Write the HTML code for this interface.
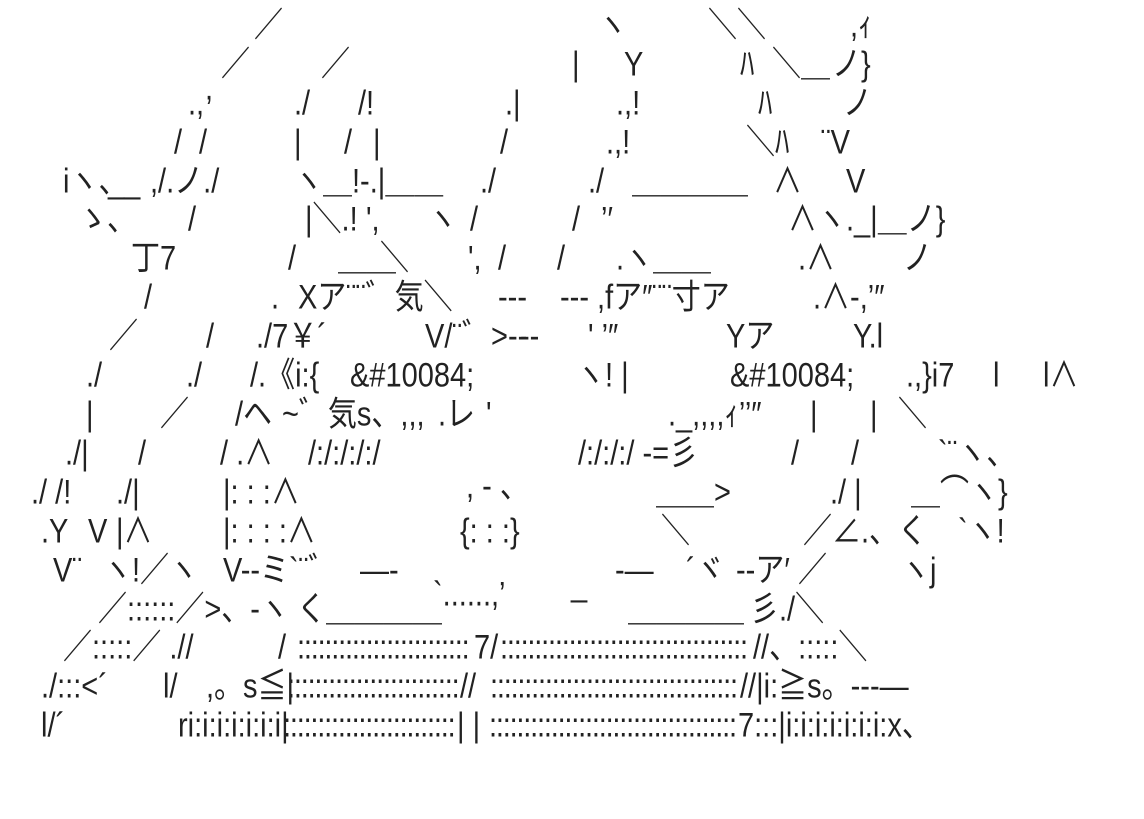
<!DOCTYPE html>
<html><head><meta charset="utf-8"><style>
html,body{margin:0;padding:0;background:#fff;}
body{width:1144px;height:819px;position:relative;overflow:hidden;font-family:"Liberation Sans","Noto Sans CJK JP",sans-serif;font-size:29px;color:#222;}
.t{position:absolute;white-space:pre;line-height:38px;transform:scaleY(1.18);transform-origin:50% 55%;}
.d{letter-spacing:-1.2px;}
</style></head><body>
<!-- row1 -->
<span class="t" style="left:254px;top:7px">／</span>
<span class="t" style="left:598px;top:7px">ヽ</span>
<span class="t" style="left:708px;top:7px">＼＼</span>
<span class="t" style="left:850px;top:7px">,ｨ</span>
<!-- row2 -->
<span class="t" style="left:221px;top:46px">／</span>
<span class="t" style="left:321px;top:46px">／</span>
<span class="t" style="left:572px;top:46px">|</span>
<span class="t" style="left:624px;top:46px">Y</span>
<span class="t" style="left:740px;top:46px">ﾊ</span>
<span class="t" style="left:772px;top:46px">＼＿</span>
<span class="t" style="left:832px;top:46px">ノ}</span>
<!-- row3 -->
<span class="t" style="left:205px;top:70px">,</span>
<span class="t" style="left:188px;top:85px">.,</span>
<span class="t" style="left:294px;top:85px">./</span>
<span class="t" style="left:358px;top:85px">/!</span>
<span class="t" style="left:505px;top:85px">.|</span>
<span class="t" style="left:616px;top:85px">.,!</span>
<span class="t" style="left:758px;top:85px">ﾊ</span>
<span class="t" style="left:843px;top:85px">ノ</span>
<!-- row4 -->
<span class="t" style="left:174px;top:124px">/</span>
<span class="t" style="left:199px;top:124px">/</span>
<span class="t" style="left:294px;top:124px">|</span>
<span class="t" style="left:344px;top:124px">/</span>
<span class="t" style="left:373px;top:124px">|</span>
<span class="t" style="left:500px;top:124px">/</span>
<span class="t" style="left:606px;top:124px">.,!</span>
<span class="t" style="left:746px;top:124px">＼ﾊ</span>
<span class="t" style="left:821px;top:124px">¨V</span>
<!-- row5 -->
<span class="t" style="left:63px;top:163px">iヽ、</span>
<span class="t" style="left:108px;top:163px">__</span>
<span class="t" style="left:150px;top:163px">,/.ノ./</span>
<span class="t" style="left:294px;top:163px">ヽ＿!-.|＿＿</span>
<span class="t" style="left:480px;top:163px">./</span>
<span class="t" style="left:588px;top:163px">./</span>
<span class="t" style="left:632px;top:163px">＿＿＿＿</span>
<span class="t" style="left:773px;top:163px">∧</span>
<span class="t" style="left:846px;top:163px">V</span>
<!-- row6 -->
<span class="t" style="left:78px;top:201px">ゝ、</span>
<span class="t" style="left:188px;top:201px">/</span>
<span class="t" style="left:305px;top:201px">|＼.!</span>
<span class="t" style="left:366px;top:201px">',</span>
<span class="t" style="left:428px;top:201px">ヽ</span>
<span class="t" style="left:470px;top:201px">/</span>
<span class="t" style="left:572px;top:201px">/</span>
<span class="t" style="left:601px;top:201px">’′</span>
<span class="t" style="left:788px;top:201px">∧ヽ._|＿ノ}</span>
<!-- row7 -->
<span class="t" style="left:131px;top:240px">丁7</span>
<span class="t" style="left:288px;top:240px">/</span>
<span class="t" style="left:338px;top:240px">＿＿</span>
<span class="t" style="left:380px;top:240px">＼</span>
<span class="t" style="left:468px;top:240px">',</span>
<span class="t" style="left:498px;top:240px">/</span>
<span class="t" style="left:557px;top:240px">/</span>
<span class="t" style="left:616px;top:240px">.ヽ＿＿</span>
<span class="t" style="left:798px;top:240px">.∧</span>
<span class="t" style="left:903px;top:240px">ノ</span>
<!-- row8 -->
<span class="t" style="left:144px;top:279px">/</span>
<span class="t" style="left:271px;top:279px">.</span>
<span class="t" style="left:298px;top:279px">Xア¨¨゛気＼</span>
<span class="t" style="left:498px;top:279px">---</span>
<span class="t" style="left:560px;top:279px">--- ,fア″¨¨寸ア</span>
<span class="t" style="left:813px;top:279px">.∧-,’″</span>
<!-- row9 -->
<span class="t" style="left:109px;top:318px">／</span>
<span class="t" style="left:206px;top:318px">/</span>
<span class="t" style="left:256px;top:318px">./7￥´</span>
<span class="t" style="left:425px;top:318px">V/¨゛&gt;--</span>
<span class="t" style="left:520px;top:318px">--</span>
<span class="t" style="left:588px;top:318px">' ’″</span>
<span class="t" style="left:726px;top:318px">Yア</span>
<span class="t" style="left:853px;top:318px">Y.l</span>
<!-- row10 -->
<span class="t" style="left:86px;top:357px">./</span>
<span class="t" style="left:186px;top:357px">./</span>
<span class="t" style="left:250px;top:357px">/.《i:{</span>
<span class="t" style="left:350px;top:357px">&amp;#10084;</span>
<span class="t" style="left:576px;top:357px">ヽ! |</span>
<span class="t" style="left:730px;top:357px">&amp;#10084;</span>
<span class="t" style="left:906px;top:357px">.,}i7</span>
<span class="t" style="left:993px;top:357px">l</span>
<span class="t" style="left:1043px;top:357px">l∧</span>
<!-- row11 -->
<span class="t" style="left:86px;top:396px">|</span>
<span class="t" style="left:160px;top:396px">／</span>
<span class="t" style="left:235px;top:396px">/ヘ</span>
<span class="t" style="left:282px;top:396px">~゛気s、,,,</span>
<span class="t" style="left:438px;top:396px">.レ</span>
<span class="t" style="left:486px;top:396px">'</span>
<span class="t" style="left:668px;top:396px">._,,,,ｨ’’″</span>
<span class="t" style="left:810px;top:396px">|</span>
<span class="t" style="left:870px;top:396px">|</span>
<span class="t" style="left:898px;top:396px">＼</span>
<!-- row12 -->
<span class="t" style="left:65px;top:435px">./|</span>
<span class="t" style="left:138px;top:435px">/</span>
<span class="t" style="left:220px;top:435px">/ .∧</span>
<span class="t" style="left:308px;top:435px">/:/:/:/:/</span>
<span class="t" style="left:578px;top:435px">/:/:/:/ -=彡</span>
<span class="t" style="left:791px;top:435px">/</span>
<span class="t" style="left:851px;top:435px">/</span>
<span class="t" style="left:938px;top:435px">`¨ヽ、</span>
<!-- row13 -->
<span class="t" style="left:31px;top:474px">./ /!</span>
<span class="t" style="left:116px;top:474px">./|</span>
<span class="t" style="left:223px;top:474px">|: : :∧</span>
<span class="t" style="left:466px;top:468px">, ‐ 、</span>
<span class="t" style="left:656px;top:474px">＿＿&gt;</span>
<span class="t" style="left:830px;top:474px">./ |</span>
<span class="t" style="left:911px;top:474px">＿⌒ヽ}</span>
<!-- row14 -->
<span class="t" style="left:41px;top:513px">.Y</span>
<span class="t" style="left:88px;top:513px">V</span>
<span class="t" style="left:116px;top:513px">|∧</span>
<span class="t" style="left:223px;top:513px">|: : : :∧</span>
<span class="t" style="left:460px;top:513px">{: : :}</span>
<span class="t" style="left:661px;top:513px">＼</span>
<span class="t" style="left:803px;top:513px">／∠.、く</span>
<span class="t" style="left:958px;top:513px">`ヽ!</span>
<!-- row15 -->
<span class="t" style="left:53px;top:552px">V¨</span>
<span class="t" style="left:103px;top:552px">ヽ!／ヽ</span>
<span class="t" style="left:223px;top:552px">V--ミ`¨゛</span>
<span class="t" style="left:360px;top:552px">―‐</span>
<span class="t" style="left:615px;top:552px">‐―</span>
<span class="t" style="left:686px;top:552px">´ヾ</span>
<span class="t" style="left:736px;top:552px">--ア′</span>
<span class="t" style="left:798px;top:552px">／</span>
<span class="t" style="left:901px;top:552px">ヽj</span>
<span class="t" style="left:571px;top:566px">_</span>
<!-- row16 -->
<span class="t" style="left:98px;top:591px">／::::::／&gt;、-ヽ く＿＿＿＿</span>
<span class="t" style="left:433px;top:576px">`......,’</span>
<span class="t" style="left:628px;top:591px">＿＿＿＿</span>
<span class="t" style="left:750px;top:591px">彡./＼</span>
<!-- row17 -->
<span class="t" style="left:63px;top:629px">／:::::／ .//</span>
<span class="t" style="left:278px;top:629px">/</span>
<span class="t d" style="left:297px;top:629px">:::::::::::::::::::::::::</span>
<span class="t" style="left:474px;top:629px">7/</span>
<span class="t d" style="left:500px;top:629px">::::::::::::::::::::::::::::::::::::</span>
<span class="t" style="left:753px;top:629px">//、:::::＼</span>
<!-- row18 -->
<span class="t" style="left:41px;top:668px">./:::&lt;´</span>
<span class="t" style="left:163px;top:668px">l/</span>
<span class="t" style="left:206px;top:668px">,。s≦|</span>
<span class="t d" style="left:287px;top:668px">:::::::::::::::::::::::::</span>
<span class="t" style="left:460px;top:668px">//</span>
<span class="t d" style="left:490px;top:668px">::::::::::::::::::::::::::::::::::::</span>
<span class="t" style="left:740px;top:668px">//|i:≧s。---―</span>
<!-- row19 -->
<span class="t" style="left:41px;top:707px">l/´</span>
<span class="t" style="left:178px;top:707px">ri:i:i:i:i:i:i|</span>
<span class="t d" style="left:283px;top:707px">:::::::::::::::::::::::::</span>
<span class="t" style="left:457px;top:707px">| |</span>
<span class="t d" style="left:489px;top:707px">::::::::::::::::::::::::::::::::::::</span>
<span class="t" style="left:738px;top:707px">7:::|i:i:i:i:i:i:i:x、</span>
</body></html>
